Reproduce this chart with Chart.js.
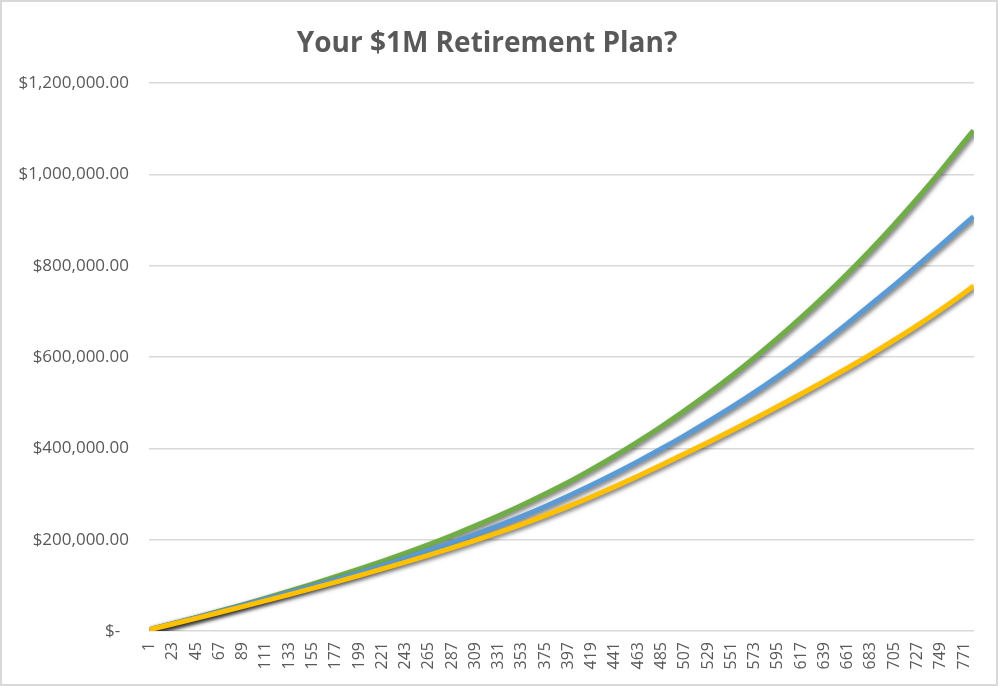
<!DOCTYPE html>
<html lang="en">
<head>
  <meta charset="UTF-8">
  <title>Your $1M Retirement Plan?</title>
  <script src="https://cdn.jsdelivr.net/npm/chart.js"></script>
  <style>
    html, body { margin: 0; padding: 0; background: #fff; }
    .chart-container { position: relative; width: 998px; height: 686px; }
  </style>
</head>
<body>
  <div class="chart-container">
    <canvas id="planChart"></canvas>
  </div>
  <script>
    // month numbers the values were read at
    const months = [1, 23, 45, 67, 89, 111, 133, 155, 177, 199, 221, 243, 265, 287, 309, 331, 353, 375,
      397, 419, 441, 463, 485, 507, 529, 551, 573, 595, 617, 639, 661, 683, 705, 727, 749, 771, 780];

    const greenValues = [3000, 16000, 29400, 43200, 57400, 72000, 87000, 102600, 118800, 135400, 152600,
      170600, 189300, 209200, 230100, 252100, 275300, 299800, 325600, 353800, 383500, 414800, 447800,
      482600, 519300, 557900, 598500, 641200, 686100, 733300, 782900, 835000, 889700, 947100, 1007300,
      1070400, 1096000];
    const blueValues = [3000, 16000, 29200, 42600, 56200, 70000, 84000, 98200, 112500, 127400, 143100,
      159500, 176300, 193600, 211600, 230600, 250900, 272600, 295600, 319600, 345000, 371500, 399100,
      428000, 458200, 489500, 522500, 557300, 594100, 633100, 673600, 714900, 756900, 800000, 844200,
      889500, 907500];
    const yellowValues = [3000, 15300, 27800, 40500, 53400, 66500, 79800, 93300, 107100, 121300, 135900,
      150900, 166300, 182200, 198600, 215700, 233700, 252700, 272800, 294000, 316200, 339300, 363300,
      387900, 412900, 438400, 464600, 491600, 519100, 547100, 575900, 605700, 636700, 669200, 703500,
      739700, 755500];

    // category labels shown on the x axis
    const xTickLabels = [1, 23, 45, 67, 89, 111, 133, 155, 177, 199, 221, 243, 265, 287, 309, 331, 353,
      375, 397, 419, 441, 463, 485, 507, 529, 551, 573, 595, 617, 639, 661, 683, 705, 727, 749, 771];
    const yTicks = [0, 200000, 400000, 600000, 800000, 1000000, 1200000];

    const textColor = '#595959';
    const gridColor = '#d9d9d9';

    function points(values) {
      return months.map((m, i) => ({ x: m, y: values[i] }));
    }

    // soft drop shadow under each line, like the office chart
    const lineShadow = {
      id: 'lineShadow',
      beforeDatasetDraw(chart) {
        const ctx = chart.ctx;
        ctx.save();
        ctx.shadowColor = 'rgba(0, 0, 0, 0.55)';
        ctx.shadowBlur = 4;
        ctx.shadowOffsetX = 2;
        ctx.shadowOffsetY = 2;
      },
      afterDatasetDraw(chart) {
        chart.ctx.restore();
      }
    };

    const outerBorder = {
      id: 'outerBorder',
      beforeDraw(chart) {
        const ctx = chart.ctx;
        ctx.save();
        ctx.fillStyle = '#fff';
        ctx.fillRect(0, 0, chart.width, chart.height);
        ctx.strokeStyle = gridColor;
        ctx.lineWidth = 2;
        ctx.strokeRect(1, 1, chart.width - 2, chart.height - 2);
        ctx.restore();
      }
    };

    function lineSet(label, values, color, order) {
      return {
        label: label,
        data: points(values),
        borderColor: color,
        backgroundColor: color,
        borderWidth: 5,
        pointRadius: 0,
        cubicInterpolationMode: 'monotone',
        fill: false,
        order: order
      };
    }

    const ctx = document.getElementById('planChart').getContext('2d');
    new Chart(ctx, {
      type: 'line',
      data: {
        datasets: [
          lineSet('Green', greenValues, '#70ad47', 3),
          lineSet('Blue', blueValues, '#5b9bd5', 2),
          lineSet('Yellow', yellowValues, '#ffc000', 1)
        ]
      },
      plugins: [outerBorder, lineShadow],
      options: {
        responsive: true,
        maintainAspectRatio: false,
        animation: false,
        layout: { padding: { left: 0, right: 24, top: 0, bottom: 0 } },
        plugins: {
          legend: { display: false },
          tooltip: { enabled: false },
          title: {
            display: true,
            text: 'Your $1M Retirement Plan?',
            color: textColor,
            font: { family: '"Open Sans", sans-serif', size: 28, weight: 'bold', lineHeight: 1.2 },
            padding: { top: 27, bottom: 22.4 }
          }
        },
        scales: {
          x: {
            type: 'linear',
            min: 0.5,
            max: 780.5,
            grid: { display: false, drawTicks: false },
            border: { display: false },
            afterBuildTicks(scale) {
              scale.ticks = xTickLabels.map(v => ({ value: v }));
            },
            afterFit(scale) { scale.height = 55; },
            ticks: {
              autoSkip: false,
              minRotation: 90,
              maxRotation: 90,
              padding: 11,
              color: textColor,
              font: { family: '"Open Sans", sans-serif', size: 16 },
              callback: v => String(v)
            }
          },
          y: {
            min: 0,
            max: 1200000,
            afterBuildTicks(scale) {
              scale.ticks = yTicks.map(v => ({ value: v }));
            },
            afterFit(scale) { scale.width = 149; },
            grid: { color: gridColor, lineWidth: 1.5, drawTicks: false },
            border: { display: false },
            ticks: {
              padding: 20,
              color: textColor,
              font: { family: '"Open Sans", sans-serif', size: 17 },
              callback: v => v === 0 ? '$-  ' :
                '$' + v.toLocaleString('en-US', { minimumFractionDigits: 2, maximumFractionDigits: 2 })
            }
          }
        }
      }
    });
  </script>
</body>
</html>
